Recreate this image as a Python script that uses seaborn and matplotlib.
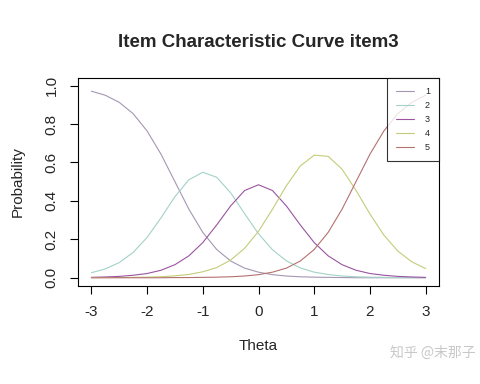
import numpy as np
import pandas as pd
import matplotlib
matplotlib.use("Agg")
import matplotlib.pyplot as plt
import seaborn as sns

# ---- data ----
theta = [-3.0, -2.75, -2.5, -2.25, -2.0, -1.75, -1.5, -1.25, -1.0, -0.75, -0.5, -0.25,
         0.0, 0.25, 0.5, 0.75, 1.0, 1.25, 1.5, 1.75, 2.0, 2.25, 2.5, 2.75, 3.0]
cat1 = [0.971, 0.950, 0.913, 0.854, 0.764, 0.643, 0.500, 0.357, 0.236, 0.147, 0.087, 0.050,
        0.029, 0.016, 0.009, 0.005, 0.003, 0.002, 0.001, 0.000, 0.000, 0.000, 0.000, 0.000, 0.000]
cat2 = [0.026, 0.046, 0.079, 0.132, 0.210, 0.312, 0.422, 0.510, 0.549, 0.523, 0.442, 0.334,
        0.229, 0.146, 0.088, 0.051, 0.029, 0.017, 0.009, 0.005, 0.003, 0.002, 0.001, 0.001, 0.000]
cat3 = [0.002, 0.004, 0.007, 0.013, 0.022, 0.039, 0.068, 0.114, 0.183, 0.275, 0.374, 0.454,
        0.484, 0.454, 0.374, 0.275, 0.183, 0.114, 0.068, 0.039, 0.022, 0.013, 0.007, 0.004, 0.002]
cat4 = [0.000, 0.001, 0.001, 0.002, 0.003, 0.005, 0.010, 0.017, 0.031, 0.053, 0.092, 0.153,
        0.242, 0.356, 0.479, 0.582, 0.638, 0.632, 0.565, 0.455, 0.332, 0.222, 0.139, 0.083, 0.048]
cat5 = [0.000, 0.000, 0.000, 0.000, 0.000, 0.000, 0.001, 0.001, 0.002, 0.003, 0.005, 0.009,
        0.016, 0.029, 0.050, 0.087, 0.147, 0.236, 0.357, 0.500, 0.643, 0.764, 0.854, 0.913, 0.950]
categories = ["1", "2", "3", "4", "5"]
colors = ["#a497b3", "#a3d1c8", "#9a54a0", "#c4cc78", "#b57070"]
x_ticks = [-3, -2, -1, 0, 1, 2, 3]
y_ticks = [0.0, 0.2, 0.4, 0.6, 0.8, 1.0]
y_tick_labels = ["0.0", "0.2", "0.4", "0.6", "0.8", "1.0"]

series = [cat1, cat2, cat3, cat4, cat5]
df = pd.DataFrame({
    "Theta": np.tile(theta, len(categories)),
    "Probability": np.concatenate(series),
    "Category": np.repeat(categories, len(theta)),
})

sns.set_style("white")
plt.rcParams["font.family"] = ["Liberation Sans", "DejaVu Sans"]

fig = plt.figure(figsize=(4.8, 3.84), dpi=100)
ax = fig.add_axes([0.1625, 0.2552, 0.7521, 0.5418])

sns.lineplot(data=df, x="Theta", y="Probability", hue="Category",
             palette=dict(zip(categories, colors)), linewidth=0.8,
             ax=ax, legend=False, estimator=None)

ax.set_xlim(-3.24, 3.24)
ax.set_ylim(-0.043, 1.04)
ax.set_xticks(x_ticks)
ax.set_xticklabels([str(t) for t in x_ticks])
ax.set_yticks(y_ticks)
ax.set_yticklabels(y_tick_labels, rotation=90, va="center")
ax.tick_params(axis="both", direction="out", length=6, width=0.8, color="black",
               labelsize=11, pad=8, bottom=True, left=True)
for s in ax.spines.values():
    s.set_color("black")
    s.set_linewidth(0.8)

ax.set_xlabel("Theta", fontsize=11, labelpad=14)
ax.set_ylabel("Probability", fontsize=11, labelpad=14)
ax.set_title("Item Characteristic Curve item3", fontsize=13.5, fontweight="bold", pad=22)

handles = [plt.Line2D([0], [0], color=c, lw=0.8) for c in colors]
leg = ax.legend(handles, categories, loc="upper right", fontsize=6.5, frameon=True,
                fancybox=False, edgecolor="black", borderaxespad=0, handlelength=2.0,
                labelspacing=0.55, borderpad=1.0, handletextpad=1.2)
leg.get_frame().set_linewidth(0.8)

fig.text(0.99, 0.08, "知乎 @末那子", ha="right", va="center", fontsize=10,
         color="#c8c8c8", family=["Noto Sans CJK SC", "DejaVu Sans"])

fig.savefig("out.png", dpi=100, facecolor="white")
